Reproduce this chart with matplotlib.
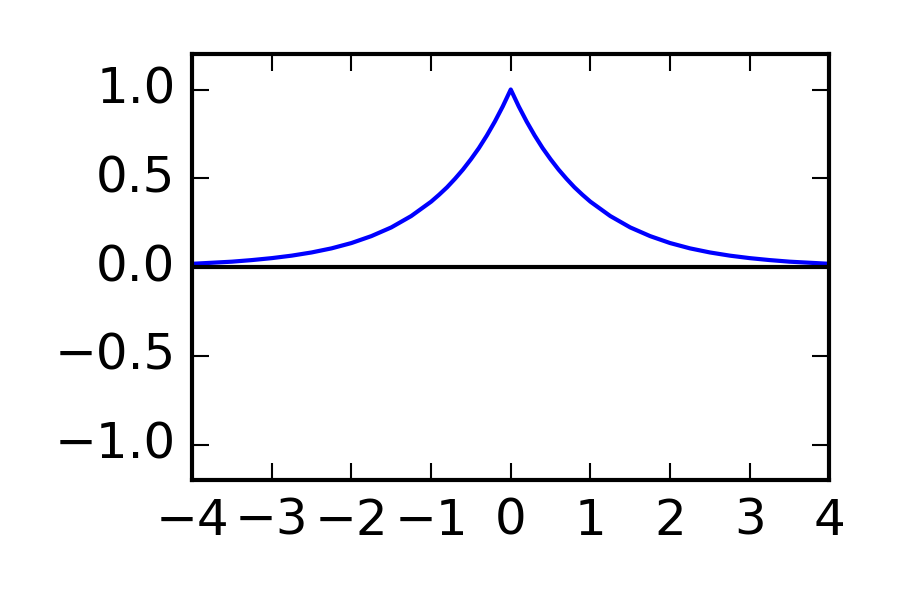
import matplotlib
matplotlib.use("Agg")
import matplotlib.pyplot as plt

plt.style.use("classic")

x_vals = [-4.0, -3.75, -3.5, -3.25, -3.0, -2.75, -2.5, -2.25, -2.0, -1.75, -1.5, -1.25,
          -1.0, -0.9, -0.8, -0.7, -0.6, -0.5, -0.4, -0.3, -0.2, -0.1, 0.0,
          0.1, 0.2, 0.3, 0.4, 0.5, 0.6, 0.7, 0.8, 0.9, 1.0,
          1.25, 1.5, 1.75, 2.0, 2.25, 2.5, 2.75, 3.0, 3.25, 3.5, 3.75, 4.0]
y_vals = [0.018, 0.024, 0.030, 0.039, 0.050, 0.064, 0.082, 0.105, 0.135, 0.174, 0.223, 0.287,
          0.368, 0.407, 0.449, 0.497, 0.549, 0.607, 0.670, 0.741, 0.819, 0.905, 1.0,
          0.905, 0.819, 0.741, 0.670, 0.607, 0.549, 0.497, 0.449, 0.407, 0.368,
          0.287, 0.223, 0.174, 0.135, 0.105, 0.082, 0.064, 0.050, 0.039, 0.030, 0.024, 0.018]

fig = plt.figure(figsize=(3, 2), dpi=300, facecolor="white")
ax = fig.add_axes([0.2135, 0.2, 0.708, 0.71])
ax.plot(x_vals, y_vals, color="blue", lw=1)
ax.axhline(0, color="black", lw=1)
ax.set_xlim(-4, 4)
ax.set_ylim(-1.2, 1.2)
ax.set_xticks([-4, -3, -2, -1, 0, 1, 2, 3, 4])
ax.set_yticks([-1.0, -0.5, 0.0, 0.5, 1.0])
fig.savefig("out.png", dpi=300, facecolor="white")
